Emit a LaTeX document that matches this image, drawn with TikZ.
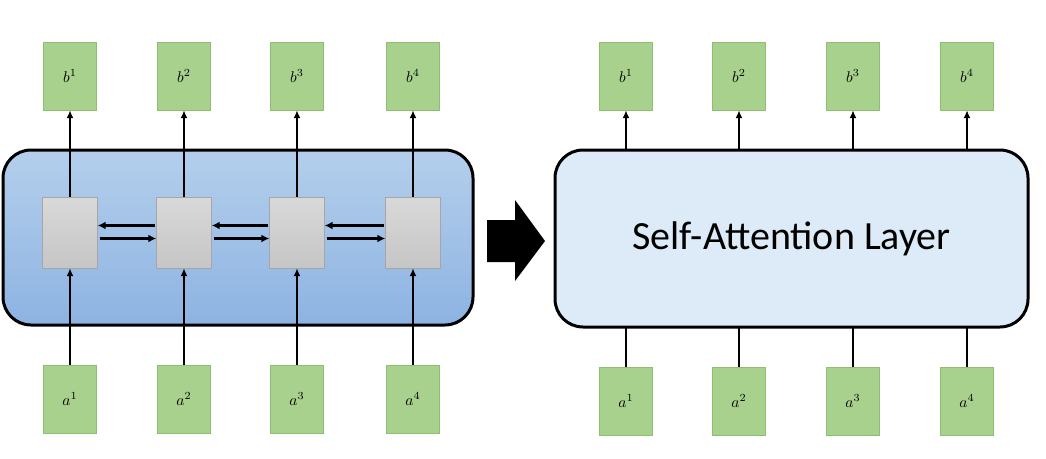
\documentclass[tikz,border=0pt]{standalone}
\usepackage{fontspec}
\newfontfamily\carl{Carlito}
\usetikzlibrary{arrows.meta}
\definecolor{gfill}{HTML}{A9D18E}
\definecolor{gdraw}{HTML}{8CBF6E}
\definecolor{bluetop}{HTML}{B4CFEC}
\definecolor{bluebot}{HTML}{8DB3E2}
\definecolor{icebox}{HTML}{DCEBF7}
\newcommand{\tokm}[2]{\scalebox{1.55}{$#1^{#2}$}}
\tikzset{
 tok/.style={draw=gdraw,fill=gfill,minimum width=53pt,minimum height=68pt,inner sep=0pt},
 cell/.style={draw=gray!70,top color=gray!30,bottom color=gray!45,minimum width=55pt,minimum height=71pt,inner sep=0pt},
 arr/.style={-{Latex[length=8pt,width=7pt]},line width=1.8pt},
 harr/.style={-{Latex[length=8pt,width=8pt]},line width=2.6pt},
 ln/.style={line width=1.8pt}
}
\begin{document}
\begin{tikzpicture}[x=1pt,y=-1pt]
\useasboundingbox (0,0) rectangle (1046,458);
\node[draw,line width=3pt,rounded corners=28pt,top color=bluetop,bottom color=bluebot,minimum width=470pt,minimum height=175pt] (L) at (238,237.5) {};
\node[draw,line width=3pt,rounded corners=28pt,fill=icebox,minimum width=473pt,minimum height=177pt,font=\carl\fontsize{40}{44}\selectfont] (R) at (791.5,238.5) {Self-Attention Layer};
\foreach \i/\x in {1/70,2/184,3/297,4/413}{
 \node[cell] (c\i) at (\x,232.5) {};
 \node[tok] (lb\i) at (\x,76) {\tokm{b}{\i}};
 \node[tok] (la\i) at (\x,399) {\tokm{a}{\i}};
 \draw[arr] (la\i.north) -- (c\i.south);
 \draw[arr] (c\i.north) -- (lb\i.south);
}
\foreach \i/\j in {1/2,2/3,3/4}{
 \draw[harr] ([yshift=7pt,xshift=-1pt]c\j.west) -- ([yshift=7pt]c\i.east);
 \draw[harr] ([yshift=-6pt,xshift=2pt]c\i.east) -- ([yshift=-6pt]c\j.west);
}
\foreach \i/\x in {1/626,2/739,3/853,4/967}{
 \node[tok] (rb\i) at (\x,76) {\tokm{b}{\i}};
 \node[tok] (ra\i) at (\x,401) {\tokm{a}{\i}};
 \draw[arr] (\x,150) coordinate (t\i) -- (rb\i.south);
 \draw[ln] (ra\i.north) -- (\x,327);
}
\fill (487,220) -- (515,220) -- (515,200) -- (545,241) -- (515,281) -- (515,262) -- (487,262) -- cycle;
\end{tikzpicture}
\end{document}
